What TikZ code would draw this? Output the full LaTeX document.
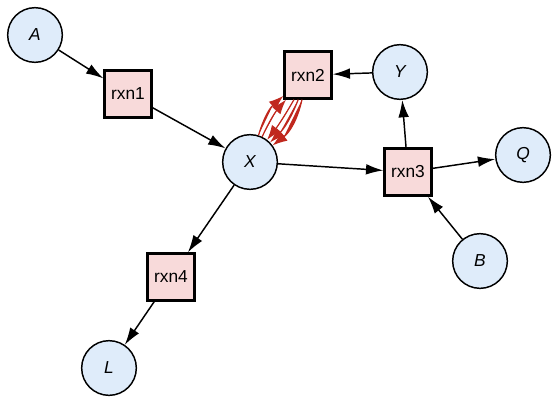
\documentclass[tikz,border=0pt]{standalone}
\usepackage{fontspec}
\setmainfont{Liberation Sans}
\usetikzlibrary{arrows.meta}
\definecolor{specfill}{RGB}{223,236,250}
\definecolor{rxnfill}{RGB}{248,218,218}
\definecolor{redge}{RGB}{192,40,30}
\tikzset{
	species/.style = {circle, draw, fill=specfill, line width=1.1pt, minimum size=41pt, inner sep=0pt, font=\fontsize{13}{15}\selectfont\itshape},
	reaction/.style = {rectangle, draw, fill=rxnfill, line width=2pt, minimum size=35pt, inner sep=0pt, font=\fontsize{13}{15}\selectfont},
	EdgeStyle/.style = {-{Latex[length=13pt,width=8pt]}, line width=1.1pt},
	RedEdge/.style = {-{Latex[length=11pt,width=8pt]}, line width=0.9pt, draw=redge, fill=redge}
}
\begin{document}
\begin{tikzpicture}[x=0.75pt,y=-0.75pt]
\useasboundingbox (0,0) rectangle (556,400);
\node[species] (A) at (35,35) {A};
\node[reaction] (rxn1) at (128,94) {rxn1};
\node[species] (X) at (250,162) {X};
\node[reaction] (rxn2) at (308,75) {rxn2};
\node[species] (Y) at (400,72) {Y};
\node[reaction] (rxn3) at (408,172) {rxn3};
\node[species] (Q) at (523,155) {Q};
\node[species] (B) at (480,261) {B};
\node[reaction] (rxn4) at (171,277) {rxn4};
\node[species] (L) at (109,368) {L};
\draw[EdgeStyle] (A) -- (rxn1);
\draw[EdgeStyle] (rxn1) -- (X);
\draw[EdgeStyle] (X) -- (rxn3);
\draw[EdgeStyle] (rxn3) -- (Y);
\draw[EdgeStyle] (rxn3) -- (Q);
\draw[EdgeStyle] (B) -- (rxn3);
\draw[EdgeStyle] (Y) -- (rxn2);
\draw[EdgeStyle] (X) -- (rxn4);
\draw[EdgeStyle] (rxn4) -- (L);
% red edges between X and rxn2
\foreach \b in {8,16}
	\draw[RedEdge] (X) to[bend left=\b] (rxn2);
\foreach \b in {4,12,20}
	\draw[RedEdge] (rxn2) to[bend left=\b] (X);
\end{tikzpicture}
\end{document}
